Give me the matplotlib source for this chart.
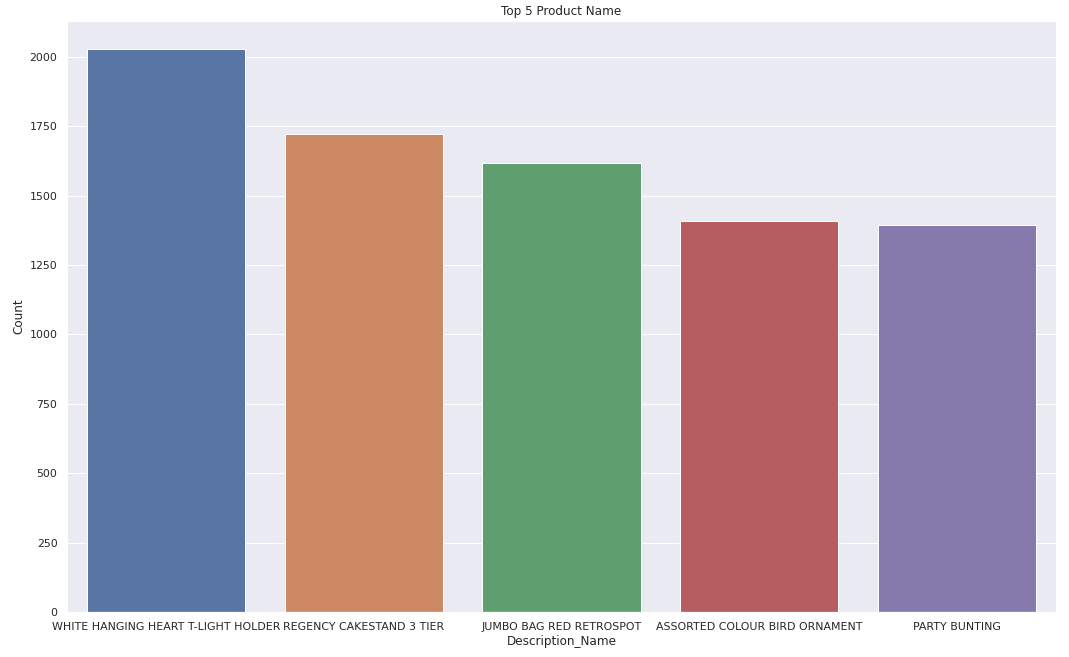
import matplotlib
matplotlib.use('Agg')
import matplotlib.pyplot as plt
import seaborn as sns

names = ['WHITE HANGING HEART T-LIGHT HOLDER', 'REGENCY CAKESTAND 3 TIER',
         'JUMBO BAG RED RETROSPOT', 'ASSORTED COLOUR BIRD ORNAMENT', 'PARTY BUNTING']
counts = [2028, 1724, 1618, 1408, 1396]

sns.set_theme(style='darkgrid')
plt.rcParams['font.family'] = ['DejaVu Sans']

fig = plt.figure(figsize=(1069 / 72, 657 / 72), dpi=72)
fig.subplots_adjust(left=67 / 1069, right=1056 / 1069, top=1 - 21 / 657, bottom=1 - 612 / 657)
ax = fig.add_subplot(1, 1, 1)
sns.barplot(x=names, y=counts, hue=names, palette='deep', saturation=0.75, legend=False, ax=ax)
ax.set_title('Top 5 Product Name')
ax.set_xlabel('Description_Name')
ax.set_ylabel('Count')

fig.savefig('out.png', dpi=72)
